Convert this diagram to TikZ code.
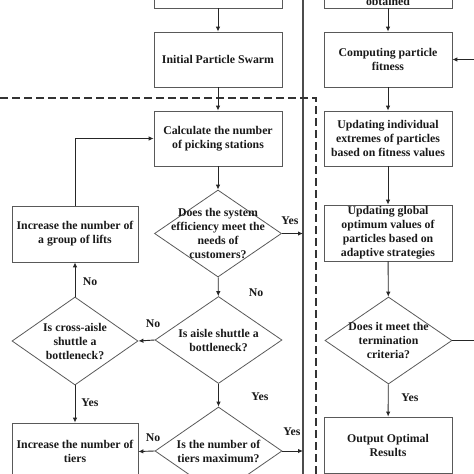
\documentclass[tikz,border=0pt]{standalone}
\usepackage{fontspec}
\setmainfont{Liberation Serif}
\usetikzlibrary{shapes.geometric,arrows.meta}
\begin{document}
\begin{tikzpicture}[x=1pt,y=-1pt,
  font=\bfseries\fontsize{11.8}{14}\selectfont,
  box/.style={draw=black!65,line width=0.8pt,minimum width=128pt,inner sep=0pt,align=center,text=black!90},
  dia/.style={draw=black!65,line width=0.8pt,diamond,inner sep=0pt,minimum width=127pt,minimum height=87pt},
  txt/.style={align=center,inner sep=0pt,text=black!90},
  lbl/.style={inner sep=0pt,text=black!90},
  arr/.style={draw=black!85,line width=0.9pt,-{Latex[length=5pt,width=4.5pt]}},
  ln/.style={draw=black!85,line width=0.9pt},
  dash1/.style={draw=black!80,line width=1.2pt,dash pattern=on 8pt off 4pt},
  sep/.style={draw=black!70,line width=1.3pt}]
\useasboundingbox (0,0) rectangle (474,474);
\begin{scope}
\clip (0,0) rectangle (474,474);
% separators
\coordinate (s1) at (303,-5);
\coordinate (s2) at (303,480);
\draw[sep] (s1) -- (s2);
\coordinate (h1) at (0,98);
\coordinate (h2) at (316,98);
\coordinate (h3) at (316,480);
\draw[dash1] (h1) -- (h2) -- (h3);
% left column
\node[box,minimum height=40pt] (topL) at (218,-12) {};
\node[box,minimum height=55pt] (ips) at (218,59.5) {Initial Particle Swarm};
\node[box,minimum height=55pt] (calc) at (218,138.5) {Calculate the number\\of picking stations};
\node[dia] (d1) at (218,233.5) {};
\node[txt] at (d1) {Does the system\\efficiency meet the\\needs of\\customers?};
\node[dia] (d2) at (218.5,340) {};
\node[txt] at (d2) {Is aisle shuttle a\\bottleneck?};
\node[dia,minimum height=88pt] (d3) at (218.5,451) {};
\node[txt] at (d3) {Is the number of\\tiers maximum?};
\node[box,minimum width=126pt,minimum height=56pt] (lifts) at (75,234) {Increase the number of\\a group of lifts};
\node[dia,minimum width=126pt,minimum height=88pt] (dc) at (75,341) {};
\node[txt] at (dc) {Is cross-aisle\\shuttle a\\bottleneck?};
\node[box,minimum width=126pt,minimum height=57pt] (tiers) at (75,451.5) {Increase the number of\\tiers};
% right column
\node[box,minimum height=40pt] (topR) at (388,-12) {};
\node[txt] (obt) at (388,1.5) {obtained};
\node[box,minimum height=55pt] (fit) at (388,59.5) {Computing particle\\fitness};
\node[box,minimum height=55pt] (indiv) at (388,138.5) {Updating individual\\extremes of particles\\based on fitness values};
\node[box,minimum height=56pt] (glob) at (388,233) {Updating global\\optimum values of\\particles based on\\adaptive strategies};
\node[dia] (dt) at (388.5,340.5) {};
\node[txt] at (dt) {Does it meet the\\termination\\criteria?};
\node[box,minimum height=56pt] (out) at (388,445) {Output Optimal\\Results};
% connectors
\draw[arr] (topL) -- (ips);
\draw[arr] (ips) -- (calc);
\draw[arr] (calc) -- (d1);
\draw[arr] (d1) -- (d2);
\draw[arr] (d2) -- (d3);
\draw[arr] (d2.west) -- (dc.east);
\draw[arr] (dc.north) -- (lifts.south);
\draw[arr] (lifts.north) |- (calc.west);
\draw[arr] (dc.south) -- (tiers.north);
\draw[arr] (d3.west) -- (tiers.east);
\coordinate (y1) at (303,233.5);
\coordinate (y2) at (303,451);
\draw[arr] (d1.east) -- (y1);
\draw[arr] (d3.east) -- (y2);
\draw[arr] (topR) -- (fit);
\coordinate (r1) at (476,59.5);
\coordinate (r2) at (476,340.5);
\draw[arr] (r1) -- (fit.east);
\draw[arr] (fit) -- (indiv);
\draw[arr] (indiv) -- (glob);
\draw[arr] (glob) -- (dt);
\draw[ln] (dt.east) -- (r2);
\draw[arr] (dt) -- (out);
% labels
\node[lbl] (l1) at (290,221) {Yes};
\node[lbl] (l2) at (256,293) {No};
\node[lbl] (l3) at (90,282) {No};
\node[lbl] (l4) at (153,324) {No};
\node[lbl] (l5) at (260,397) {Yes};
\node[lbl] (l6) at (90,403) {Yes};
\node[lbl] (l7) at (153,438) {No};
\node[lbl] (l8) at (292,432) {Yes};
\node[lbl] (l9) at (410,398) {Yes};
\end{scope}
\end{tikzpicture}
\end{document}
